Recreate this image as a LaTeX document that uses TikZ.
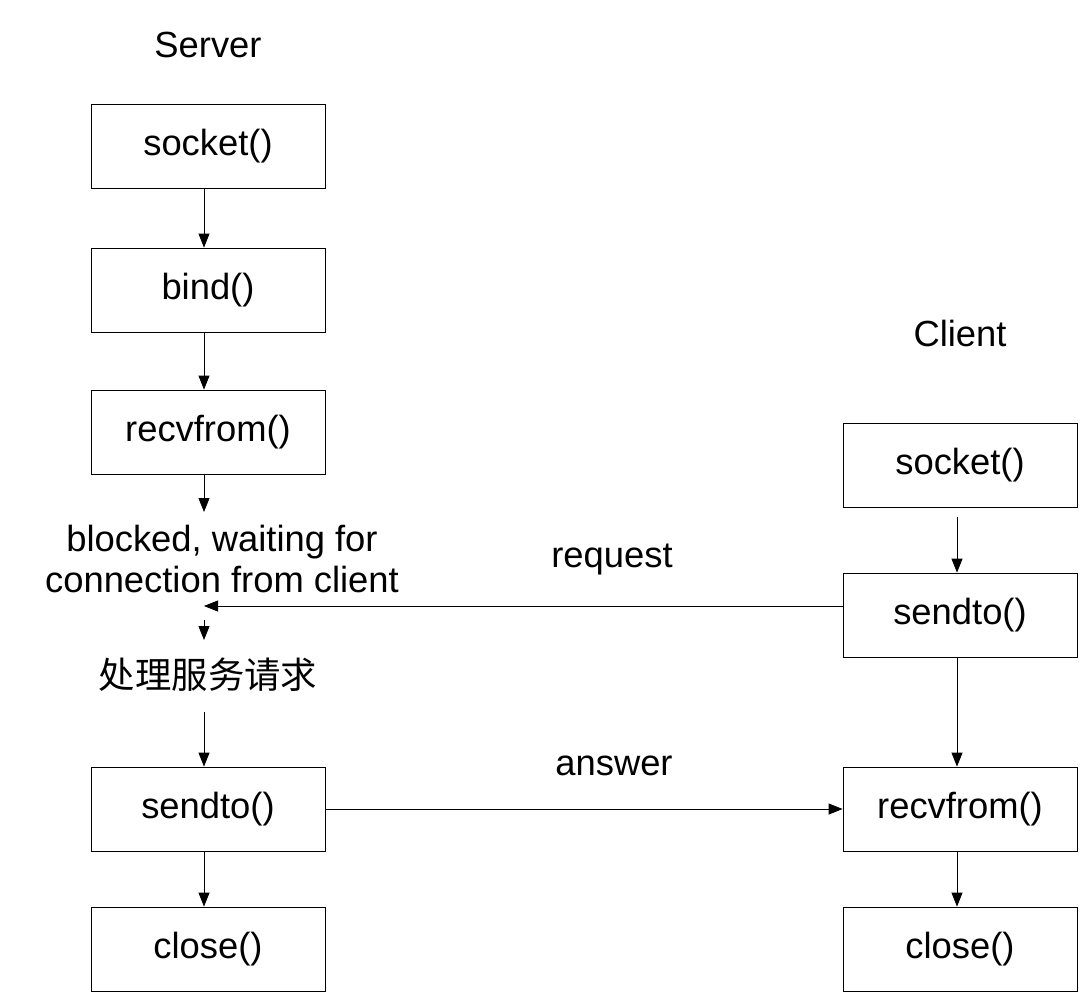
\documentclass[tikz,border=0pt]{standalone}
\usepackage{fontspec}
\setmainfont{Liberation Sans}
\newfontfamily\cjk{Noto Sans CJK SC}
\usetikzlibrary{arrows.meta}
\begin{document}
\begin{tikzpicture}[x=1bp,y=-1bp,
 box/.style={draw,line width=0.8bp,minimum width=234bp,minimum height=84bp,inner sep=0,font=\fontsize{36.5}{40}\selectfont},
 lbl/.style={font=\fontsize{36.5}{42}\selectfont,inner sep=0},
 arr/.style={line width=0.8bp,-{Triangle[length=14bp,width=11bp]}}]
\useasboundingbox (0,0) rectangle (1084,999);
\node[lbl] (srv) at (208,45) {Server};
\node[box] (s1) at (208,146) {socket()};
\node[box] (s2) at (208,290) {bind()};
\node[box] (s3) at (208,432) {recvfrom()};
\node[lbl,align=center] (blk) at (222,559) {blocked, waiting for\\connection from client};
\node[lbl,font=\cjk\fontsize{36.5}{40}\selectfont] (proc) at (208,675) {处理服务请求};
\node[box] (s4) at (208,809) {sendto()};
\node[box] (s5) at (208,949) {close()};
\coordinate (a1) at (204,474); \coordinate (a2) at (204,512);
\coordinate (b1) at (204,620); \coordinate (b2) at (204,640);
\coordinate (c1) at (204,712);
\coordinate (rq) at (204,606);
\node[lbl] (cli) at (960,333) {Client};
\node[box] (c1b) at (960,465) {socket()};
\node[box] (c2b) at (960,615) {sendto()};
\node[box] (c3b) at (960,809) {recvfrom()};
\node[box] (c4b) at (960,949) {close()};
\coordinate (d1) at (957,517);
\node[lbl] (req) at (612,560) {request};
\node[lbl] (ans) at (614,766) {answer};
\draw[arr] (s1.south -| a1) -- (s2.north -| a1);
\draw[arr] (s2.south -| a1) -- (s3.north -| a1);
\draw[arr] (a1) -- (a2);
\draw[arr] (b1) -- (b2);
\draw[arr] (c1) -- (s4.north -| c1);
\draw[arr] (s4.south -| c1) -- (s5.north -| c1);
\draw[arr] (c2b.west |- rq) -- (rq);
\draw[arr] (s4.east) -- (c3b.west);
\draw[arr] (d1) -- (c2b.north -| d1);
\draw[arr] (c2b.south -| d1) -- (c3b.north -| d1);
\draw[arr] (c3b.south -| d1) -- (c4b.north -| d1);
\end{tikzpicture}
\end{document}
